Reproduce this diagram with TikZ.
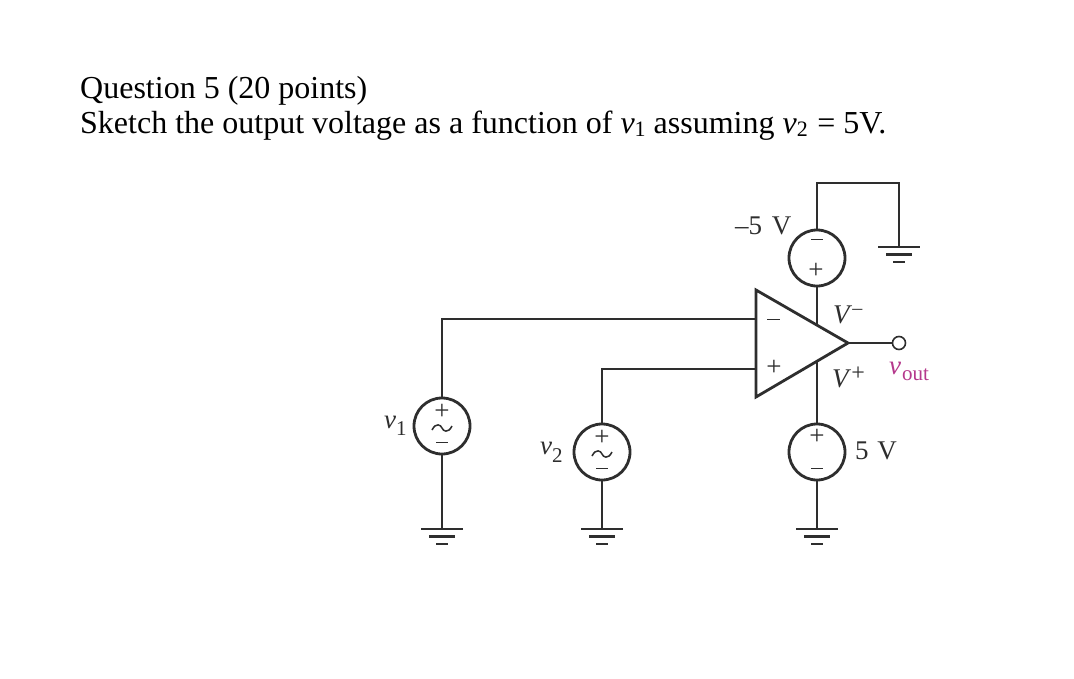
\documentclass[tikz,border=0pt]{standalone}
\usepackage{fontspec}
\setmainfont{Liberation Serif}
\definecolor{ink}{HTML}{2E2E2E}
\definecolor{vout}{HTML}{B5388C}
\newcommand{\gnd}[1]{%
  \draw[gndbar] ($(#1)+(-21,0)$) -- ($(#1)+(21,0)$);
  \draw[gndbar] ($(#1)+(-13,7.5)$) -- ($(#1)+(13,7.5)$);
  \draw[gndbar,line width=2.8pt] ($(#1)+(-6,15)$) -- ($(#1)+(6,15)$);
}
\newcommand{\acmark}[1]{%
  \draw[ink,line width=1.5pt] ($(#1)+(-10,2)$) .. controls ($(#1)+(-6,-6)$) and ($(#1)+(-1,-3)$) .. (#1) .. controls ($(#1)+(1,3)$) and ($(#1)+(6,6)$) .. ($(#1)+(10,-2)$);
}
\usetikzlibrary{calc}
\tikzset{
  x=1pt,y=-1pt,
  wire/.style={draw=ink,line width=1.8pt},
  heavy/.style={draw=ink,line width=2.8pt},
  gndbar/.style={draw=ink,line width=2.6pt},
  src/.style={circle,draw=ink,line width=2.8pt,minimum size=56pt,inner sep=0pt,fill=white},
  term/.style={circle,draw=ink,line width=1.6pt,minimum size=13pt,inner sep=0pt,fill=white},
  head/.style={font=\fontsize{32}{36}\selectfont,text=black,inner sep=0pt,anchor=base west},
  lab/.style={font=\fontsize{27}{30}\selectfont,text=ink,inner sep=0pt},
  sgn/.style={font=\fontsize{27}{27}\selectfont,text=ink,inner sep=0pt},
  tick/.style={draw=ink,line width=1.3pt},
}
\begin{document}
\begin{tikzpicture}
\useasboundingbox (0,0) rectangle (1074,678);
\fill[white] (0,0) rectangle (1074,678);
\node[head] (q) at (80,98) {Question 5 (20 points)};
\node[head] (s) at (80,133) {Sketch the output voltage as a function of \textit{v}\raisebox{-3pt}{\fontsize{22}{22}\selectfont 1} assuming \textit{v}\raisebox{-3pt}{\fontsize{22}{22}\selectfont 2}\hspace{1.5pt} = 5V.};

% op amp corners
\coordinate (tl) at (756,290);
\coordinate (bl) at (756,397);
\coordinate (tip) at (848,343);
\coordinate (inm) at (756,319);
\coordinate (inp) at (756,369);
\coordinate (railt) at (817,325);
\coordinate (railb) at (817,361);

\node[src] (vm) at (817,258) {};
\node[src] (vp) at (817,452) {};
\node[src] (v1) at (442,426) {};
\node[src] (v2) at (602,452) {};
\node[term] (out) at (899,343) {};

\coordinate (g0) at (899,247);
\coordinate (g1) at (442,529);
\coordinate (g2) at (602,529);
\coordinate (g3) at (817,529);

\draw[wire] (vm.north) -- ++(0,-46) -| (g0);
\draw[wire] (vm.south) -- (railt);
\draw[wire] (vp.north) -- (railb);
\draw[wire] (vp.south) -- (g3);
\draw[wire] (v1.south) -- (g1);
\draw[wire] (v2.south) -- (g2);
\draw[wire] (v1.north) |- (inm);
\draw[wire] (v2.north) |- (inp);
\draw[wire] (tip) -- (out.west);
\draw[heavy,line join=miter,fill=white] (tl) -- (tip) -- (bl) -- cycle;
\gnd{g0}
\gnd{g1}
\gnd{g2}
\gnd{g3}

% source marks
\coordinate (m1) at (442,428);
\coordinate (m2) at (602,454);
\node[sgn] (a1) at (442,411.5) {+};
\acmark{m1}
\draw[tick] (436,442.5) -- (448,442.5);
\node[sgn] (b1) at (602,437.5) {+};
\acmark{m2}
\draw[tick] (596,468.5) -- (608,468.5);
\node[sgn] (c1) at (817,436.5) {+};
\draw[tick] (811,468.5) -- (823,468.5);
\draw[tick] (811,239.5) -- (823,239.5);
\node[sgn] (d1) at (816,270.5) {+};
\draw[tick] (767,319.5) -- (780,319.5);
\node[sgn] (e1) at (774,368) {+};

% labels
\node[lab,anchor=base west] (l1) at (384,428) {\textit{v}\raisebox{-7pt}{\fontsize{21}{21}\selectfont 1}};
\node[lab,anchor=base west] (l2) at (540,454) {\textit{v}\raisebox{-8pt}{\fontsize{21}{21}\selectfont 2}};
\node[lab,anchor=base west] (l3) at (735,234) {–5\hspace{3pt} V};
\node[lab,anchor=base west] (l4) at (855,459) {5\hspace{2pt} V};
\node[lab,anchor=base west] (l5) at (833,323) {\textit{V}\raisebox{9pt}{\fontsize{20}{20}\selectfont –}};
\node[lab,anchor=base west] (l6) at (832,387) {\textit{V}\raisebox{7pt}{\fontsize{24}{24}\selectfont +}};
\node[lab,anchor=base west,text=vout] (l7) at (889,374) {\textit{v}\raisebox{-6pt}{\fontsize{21}{21}\selectfont\hspace{1pt}out}};
\end{tikzpicture}
\end{document}
